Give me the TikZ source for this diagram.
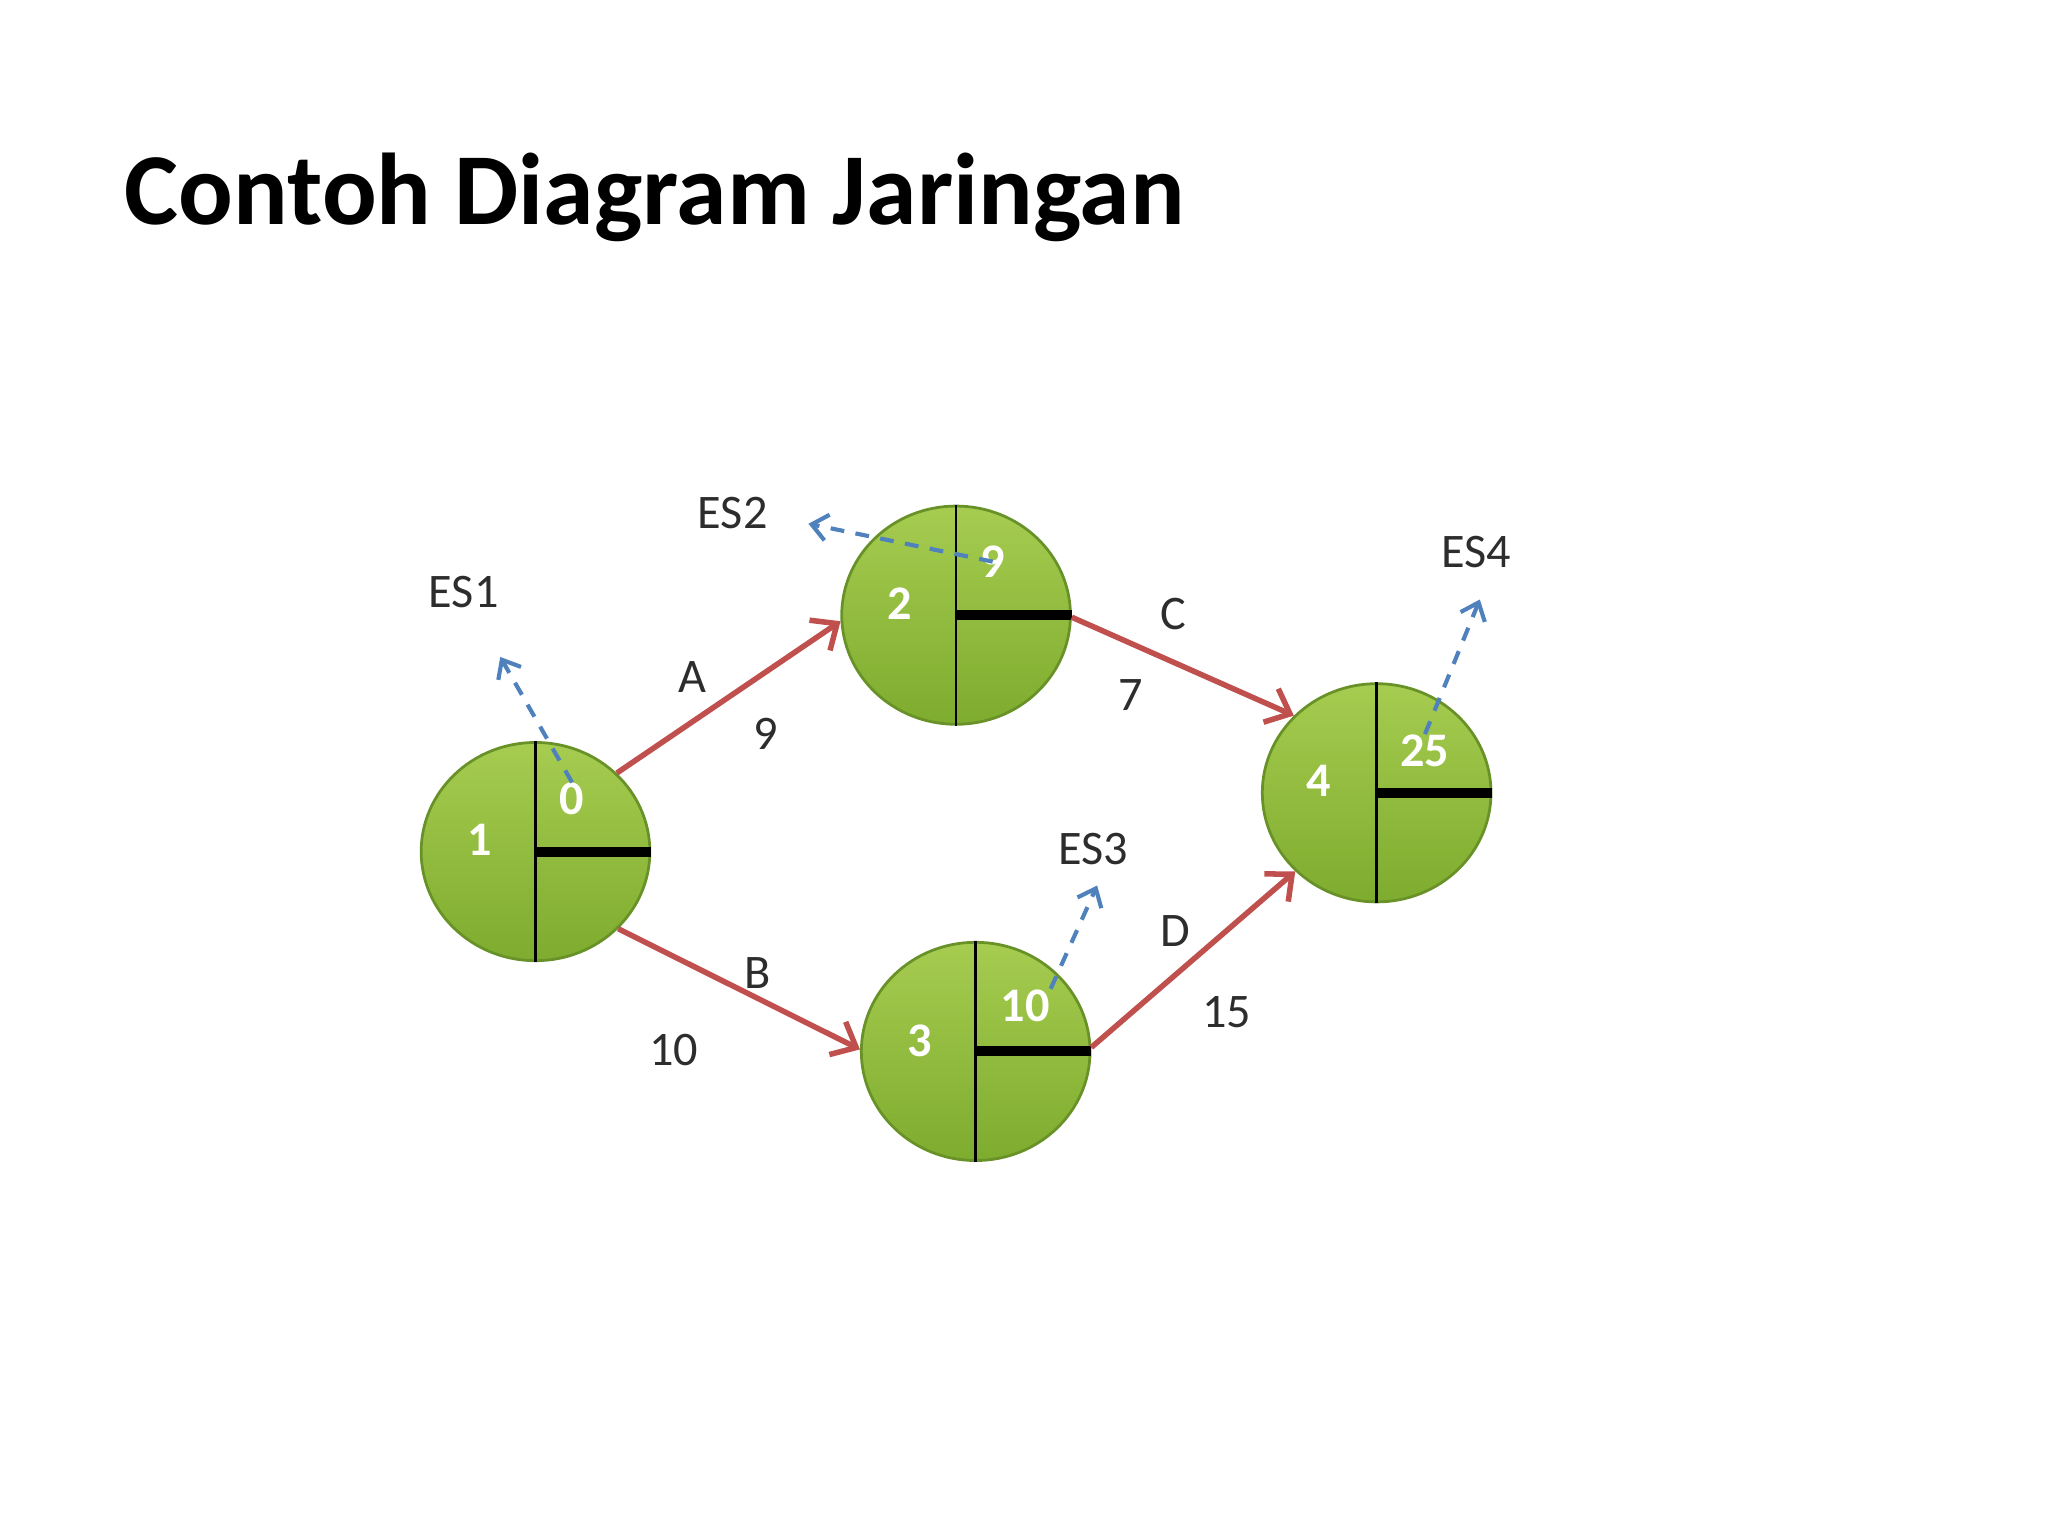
\documentclass[tikz,border=0pt]{standalone}
\usepackage{fontspec}
\setmainfont{Carlito}
\usetikzlibrary{arrows.meta,shapes.geometric}
\definecolor{balltop}{RGB}{166,204,80}
\definecolor{ballbot}{RGB}{126,172,46}
\definecolor{balledge}{RGB}{104,146,40}
\definecolor{actred}{RGB}{192,80,77}
\definecolor{esblue}{RGB}{79,129,189}
\definecolor{lblgray}{RGB}{45,45,45}
\begin{document}
\begin{tikzpicture}[x=0.01cm,y=-0.01cm,
    event/.style={ellipse, draw=balledge, line width=0.6pt, top color=balltop, bottom color=ballbot,
                  minimum width=1.75cm, minimum height=1.67cm, inner sep=0pt},
    num/.style={text=white, font=\bfseries\fontsize{10.5}{12}\selectfont, inner sep=0pt},
    lbl/.style={text=lblgray, font=\fontsize{10.5}{12}\selectfont, inner sep=0pt},
    act/.style={draw=actred, line width=1.2pt, -{Straight Barb[length=1.6mm,width=2.8mm,line width=1.2pt]}},
    esline/.style={draw=esblue, line width=0.9pt, dash pattern=on 3pt off 2.5pt,
                   -{Straight Barb[length=1.2mm,width=2mm,line width=0.9pt]}}]
    \fill [white] (0,0) rectangle (1568,1176);
    \useasboundingbox (0,0) rectangle (1568,1176);
    % title
    \node [anchor=base west, inner sep=0pt, font=\bfseries\fontsize{22.2}{27}\selectfont] (title) at (95,172) {Contoh Diagram Jaringan};
    % events
    \node [event] (n1) at (410,652) {};
    \node [event] (n2) at (732,471) {};
    \node [event] (n3) at (747,805) {};
    \node [event] (n4) at (1054,607) {};
    \foreach \n in {n1,n2,n3,n4} {
        \draw [line width=0.6pt] (\n.north) -- (\n.south);
        \draw [line width=2.2pt] (\n.center) -- (\n.east);
    }
    \node [num] (k1) at (367,643) {1};
    \node [num] (k2) at (689,462) {2};
    \node [num] (k3) at (704,797) {3};
    \node [num] (k4) at (1010,598) {4};
    \node [num] (t1) at (438,612) {0};
    \node [num] (t2) at (760,430) {9};
    \node [num] (t3) at (785,770) {10};
    \node [num] (t4) at (1091,575) {25};
    % activities
    \draw [act] (n1.44) -- (n2.183);
    \draw [act] (n1.-43) -- (n3.179);
    \draw [act] (n2.-1) -- (n4.137);
    \draw [act] (n3.2) -- (n4.224);
    \node [lbl] (lA) at (530,518) {A};
    \node [lbl] (dA) at (586,562) {9};
    \node [lbl] (lB) at (580,745) {B};
    \node [lbl] (dB) at (516,804) {10};
    \node [lbl] (lC) at (898,470) {C};
    \node [lbl] (dC) at (866,532) {7};
    \node [lbl] (lD) at (900,713) {D};
    \node [lbl] (dD) at (939,775) {15};
    % earliest start
    \node [lbl] (es1) at (355,453) {ES1};
    \node [lbl] (es2) at (561,393) {ES2};
    \node [lbl] (es3) at (837,650) {ES3};
    \node [lbl] (es4) at (1130,423) {ES4};
    \coordinate (p1) at (383,503);
    \coordinate (p2) at (619,401);
    \coordinate (p3) at (840,678);
    \coordinate (p4) at (1133,459);
    \draw [esline] (t1.north) -- (p1);
    \draw [esline] (t2.center) -- (p2);
    \draw [esline] (t3.north east) -- (p3);
    \draw [esline] (t4.north) -- (p4);
\end{tikzpicture}
\end{document}
